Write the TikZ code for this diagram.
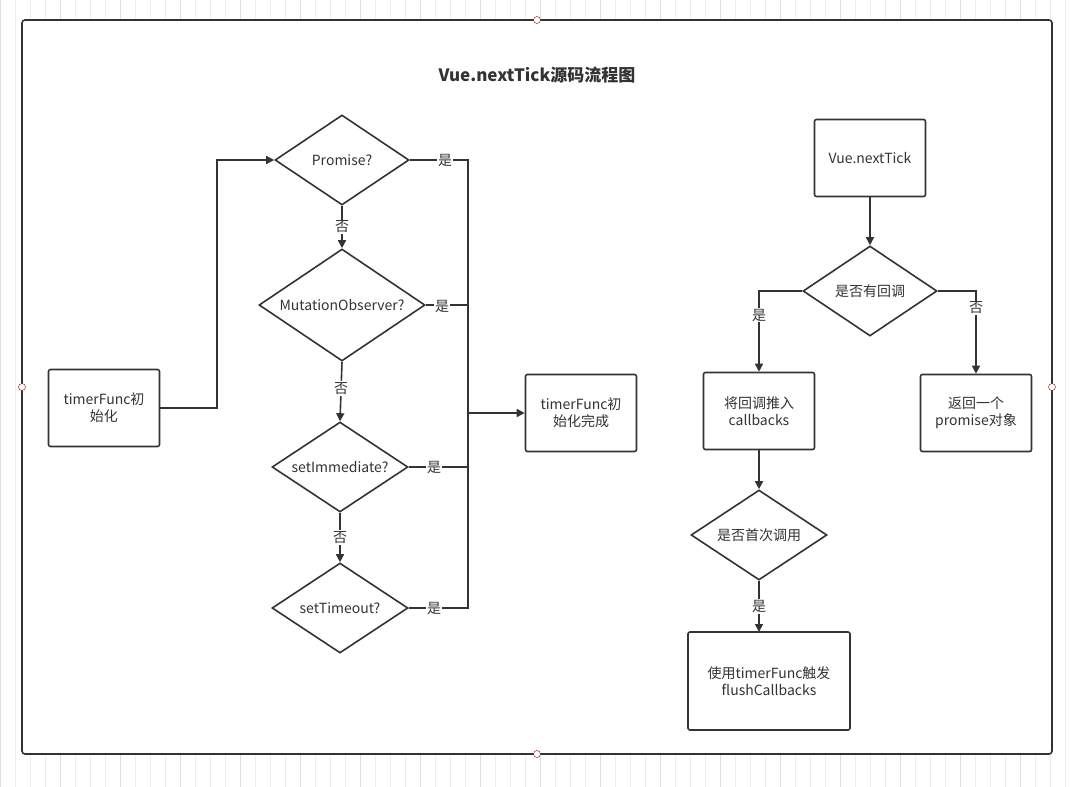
\documentclass[tikz,border=0pt]{standalone}
\usepackage{fontspec}
\setmainfont{Noto Sans CJK SC}
\usetikzlibrary{arrows.meta,shapes.geometric}
\definecolor{ln}{HTML}{333333}
\begin{document}
\begin{tikzpicture}[x=1pt,y=-1pt,
  box/.style={draw=ln,line width=1.6pt,rounded corners=2pt,minimum width=111pt,minimum height=77pt,align=center,font=\fontsize{14}{17}\selectfont,text=ln},
  dia/.style={draw=ln,line width=1.6pt,diamond,aspect=1.5,inner sep=0pt,align=center,font=\fontsize{14}{17}\selectfont,text=ln},
  ed/.style={draw=ln,line width=1.6pt},
  ar/.style={ed,-{Triangle[length=8pt,width=8pt]}},
  lb/.style={fill=white,inner sep=1pt,font=\fontsize{14}{17}\selectfont,text=ln}]
\useasboundingbox (0,0) rectangle (1080,787);
\fill[white] (0,0) rectangle (1080,787);
\draw[black!7,line width=0.5pt,step=15] (0,0) grid (1080,787);
\draw[black!12,line width=0.6pt,step=60] (0,0) grid (1080,787);
\draw[ln,line width=1.6pt,fill=white,rounded corners=3pt] (22,20) rectangle (1052,754);
\foreach \p in {(537,20),(537,754),(22,387),(1052,387)} \draw[red!50!black,fill=white] \p circle (3.5);
\node[font=\bfseries\fontsize{17}{20}\selectfont,text=ln] (title) at (537,75) {Vue.nextTick源码流程图};
\node[box] (init) at (104,408) {timerFunc初\\始化};
\node[dia,minimum width=134pt,minimum height=90pt] (p) at (342,160) {Promise?};
\node[dia,minimum width=166pt,minimum height=112pt] (mo) at (342,305) {MutationObserver?};
\node[dia,minimum width=136pt,minimum height=90pt] (si) at (340,467) {setImmediate?};
\node[dia,minimum width=136pt,minimum height=90pt] (st) at (340,608) {setTimeout?};
\node[box] (done) at (581,413) {timerFunc初\\始化完成};
\node[box] (vn) at (870,158) {Vue.nextTick};
\node[dia,minimum width=134pt,minimum height=90pt] (cb) at (870,291) {是否有回调};
\node[box] (push) at (759,411) {将回调推入\\callbacks};
\node[box] (ret) at (976,413) {返回一个\\promise对象};
\node[dia,minimum width=136pt,minimum height=90pt] (first) at (759,535) {是否首次调用};
\node[box,minimum width=162pt,minimum height=98pt] (fl) at (769,681) {使用timerFunc触发\\flushCallbacks};
\coordinate (j1) at (468,160); \coordinate (j4) at (468,608); \coordinate (jm) at (468,413);
\draw[ar] (init.east) -- (217,408) |- (p.west);
\draw[ed] (p.east) -- (j1) -- (j4) -- (st.east);
\draw[ed] (mo.east) -- (468,305);
\draw[ed] (si.east) -- (468,467);
\draw[ar] (jm) -- (done.west);
\node[lb] at (445,160) {是};
\node[lb] at (442,306) {是};
\node[lb] at (434,467) {是};
\node[lb] at (434,608) {是};
\draw[ar] (p.south) -- node[lb]{否} (mo.north);
\draw[ar] (mo.south) -- node[lb,pos=0.45]{否} (si.north);
\draw[ar] (si.south) -- node[lb]{否} (st.north);
\draw[ar] (vn.south) -- (cb.north);
\draw[ar] (cb.west) -| node[lb,pos=0.65]{是} (push.north);
\draw[ar] (cb.east) -| node[lb,pos=0.6]{否} (ret.north);
\draw[ar] (push.south) -- (first.north);
\draw[ar] (first.south) -- node[lb,pos=0.5]{是} (759,632);
\end{tikzpicture}
\end{document}
